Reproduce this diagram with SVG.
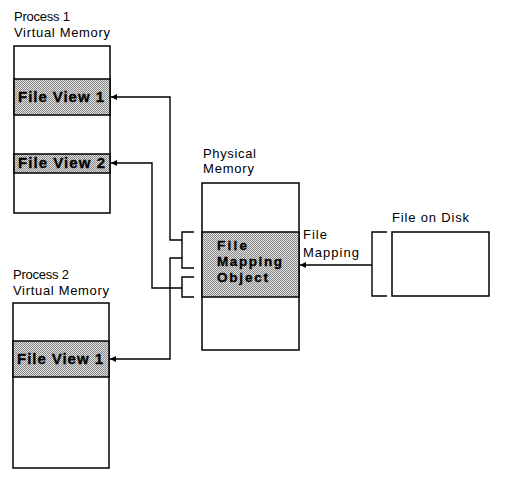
<svg xmlns="http://www.w3.org/2000/svg" width="514" height="481" viewBox="0 0 514 481">
<defs>
<pattern id="dots" width="2" height="2" patternUnits="userSpaceOnUse">
<rect width="2" height="2" fill="#e0e0e0"/>
<rect x="0" y="0" width="1" height="1" fill="#888"/>
<rect x="1" y="1" width="1" height="1" fill="#888"/>
</pattern>
<marker id="arr" markerUnits="userSpaceOnUse" markerWidth="8" markerHeight="8" refX="6" refY="3" orient="auto">
<path d="M0,0 L6,3 L0,6 Z" fill="#000"/>
</marker>
<style>
.box{fill:#fff;stroke:#000;stroke-width:1.5}
.band{fill:url(#dots);stroke:#000;stroke-width:1.5}
.ln{fill:none;stroke:#000;stroke-width:1.4}
.lbl{font-family:"Liberation Sans",Arial,sans-serif;font-size:13px;fill:#000}
.bold{font-family:"Liberation Sans",Arial,sans-serif;font-size:15px;font-weight:bold;fill:#000;stroke:#000;stroke-width:0.3}
.fmo{font-size:13.5px}
</style>
</defs>
<rect width="514" height="481" fill="#fff"/>

<g id="process1">
<text class="lbl" x="14" y="21" textLength="56" lengthAdjust="spacing">Process 1</text>
<text class="lbl" x="14" y="37" textLength="96" lengthAdjust="spacing">Virtual Memory</text>
<rect class="box" x="14" y="46" width="96" height="167"/>
<rect class="band" x="14" y="79" width="96" height="36"/>
<text class="bold" x="18" y="102" textLength="86" lengthAdjust="spacing">File View 1</text>
<rect class="band" x="14" y="154" width="96" height="19"/>
<text class="bold" x="18" y="168" textLength="87" lengthAdjust="spacing">File View 2</text>
</g>

<g id="process2">
<text class="lbl" x="13" y="279" textLength="56" lengthAdjust="spacing">Process 2</text>
<text class="lbl" x="13" y="295" textLength="96" lengthAdjust="spacing">Virtual Memory</text>
<rect class="box" x="13" y="303" width="96" height="165"/>
<rect class="band" x="13" y="341" width="96" height="36"/>
<text class="bold" x="17" y="364" textLength="86" lengthAdjust="spacing">File View 1</text>
</g>

<g id="physical">
<text class="lbl" x="203" y="158" textLength="53" lengthAdjust="spacing">Physical</text>
<text class="lbl" x="203" y="173" textLength="51" lengthAdjust="spacing">Memory</text>
<rect class="box" x="202" y="183" width="97" height="167"/>
<rect class="band" x="202" y="232" width="97" height="65"/>
<text class="bold fmo" x="217" y="250" textLength="30" lengthAdjust="spacing">File</text>
<text class="bold fmo" x="217" y="266" textLength="65" lengthAdjust="spacing">Mapping</text>
<text class="bold fmo" x="217" y="282" textLength="51" lengthAdjust="spacing">Object</text>
</g>

<g id="disk">
<text class="lbl" x="392" y="222" textLength="77" lengthAdjust="spacing">File on Disk</text>
<rect class="box" x="392" y="232" width="97" height="64"/>
</g>

<g id="connectors">
<path class="ln" d="M182,240 H170 V97 H111" marker-end="url(#arr)"/>
<path class="ln" d="M182,288 H152 V163 H111" marker-end="url(#arr)"/>
<path class="ln" d="M182,258 H170 V359 H110" marker-end="url(#arr)"/>
<path class="ln" d="M194,232 H182 V268 H194"/>
<path class="ln" d="M194,277 H182 V297 H194"/>
<path class="ln" d="M387,232 H372 V296 H387"/>
<path class="ln" d="M372,265 H300" marker-end="url(#arr)"/>
<text class="lbl" x="303" y="239" textLength="24" lengthAdjust="spacing">File</text>
<text class="lbl" x="303" y="257" textLength="56" lengthAdjust="spacing">Mapping</text>
</g>
</svg>
